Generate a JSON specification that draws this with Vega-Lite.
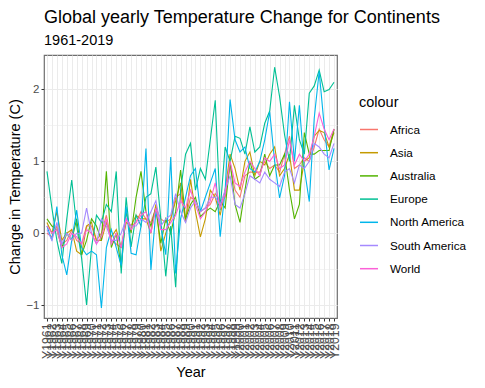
{
  "$schema": "https://vega.github.io/schema/vega-lite/v6.json",
  "autosize": {"type": "none"},
  "padding": {"left": 44, "top": 55, "right": 148, "bottom": 70},
  "width": 293,
  "height": 263,
  "background": "white",
  "title": {
    "text": "Global yearly Temperature Change for Continents",
    "subtitle": "1961-2019",
    "anchor": "start",
    "frame": "group",
    "font": "Liberation Sans",
    "fontSize": 18,
    "fontWeight": "normal",
    "color": "#000000",
    "subtitleFont": "Liberation Sans",
    "subtitleFontSize": 14.5,
    "subtitleColor": "#000000",
    "subtitlePadding": 7,
    "offset": 8
  },
  "data": {
    "values": [
      {"Year": "Y1961", "Africa": 0.0, "Asia": 0.15, "Australia": 0.2, "Europe": 0.86, "North America": 0.1, "South America": 0.05, "World": 0.1},
      {"Year": "Y1962", "Africa": -0.05, "Asia": 0.0, "Australia": 0.1, "Europe": 0.35, "North America": -0.1, "South America": -0.1, "World": 0.0},
      {"Year": "Y1963", "Africa": 0.1, "Asia": 0.3, "Australia": 0.05, "Europe": -0.1, "North America": 0.37, "South America": 0.15, "World": 0.05},
      {"Year": "Y1964", "Africa": -0.15, "Asia": -0.1, "Australia": -0.2, "Europe": -0.42, "North America": -0.3, "South America": -0.15, "World": -0.2},
      {"Year": "Y1965", "Africa": -0.1, "Asia": 0.0, "Australia": 0.0, "Europe": 0.2, "North America": -0.58, "South America": 0.0, "World": -0.15},
      {"Year": "Y1966", "Africa": 0.05, "Asia": 0.05, "Australia": -0.1, "Europe": 0.74, "North America": -0.1, "South America": -0.1, "World": 0.0},
      {"Year": "Y1967", "Africa": -0.1, "Asia": -0.25, "Australia": 0.2, "Europe": 0.1, "North America": 0.32, "South America": 0.0, "World": -0.05},
      {"Year": "Y1968", "Africa": -0.15, "Asia": -0.3, "Australia": -0.3, "Europe": -0.35, "North America": -0.2, "South America": 0.0, "World": -0.15},
      {"Year": "Y1969", "Africa": 0.1, "Asia": 0.1, "Australia": -0.1, "Europe": -1.0, "North America": -0.3, "South America": 0.35, "World": 0.05},
      {"Year": "Y1970", "Africa": 0.1, "Asia": 0.15, "Australia": 0.2, "Europe": -0.2, "North America": -0.25, "South America": 0.0, "World": 0.0},
      {"Year": "Y1971", "Africa": -0.1, "Asia": -0.1, "Australia": 0.1, "Europe": 0.25, "North America": -0.3, "South America": -0.15, "World": -0.15},
      {"Year": "Y1972", "Africa": 0.0, "Asia": -0.1, "Australia": -0.1, "Europe": 0.15, "North America": -1.04, "South America": 0.2, "World": -0.05},
      {"Year": "Y1973", "Africa": 0.25, "Asia": 0.15, "Australia": 0.86, "Europe": 0.4, "North America": -0.2, "South America": 0.1, "World": 0.2},
      {"Year": "Y1974", "Africa": -0.1, "Asia": -0.05, "Australia": -0.2, "Europe": 0.3, "North America": 0.05, "South America": -0.1, "World": -0.15},
      {"Year": "Y1975", "Africa": -0.15, "Asia": 0.05, "Australia": 0.0, "Europe": 0.86, "North America": -0.2, "South America": -0.1, "World": 0.0},
      {"Year": "Y1976", "Africa": -0.2, "Asia": -0.2, "Australia": -0.48, "Europe": -0.56, "North America": -0.45, "South America": 0.0, "World": -0.2},
      {"Year": "Y1977", "Africa": 0.2, "Asia": 0.15, "Australia": 0.3, "Europe": 0.5, "North America": 0.37, "South America": 0.2, "World": 0.2},
      {"Year": "Y1978", "Africa": 0.1, "Asia": 0.1, "Australia": 0.0, "Europe": -0.19, "North America": -0.28, "South America": 0.1, "World": 0.05},
      {"Year": "Y1979", "Africa": 0.15, "Asia": 0.25, "Australia": 0.5, "Europe": 0.25, "North America": -0.3, "South America": 0.1, "World": 0.15},
      {"Year": "Y1980", "Africa": 0.3, "Asia": 0.2, "Australia": 0.86, "Europe": 0.1, "North America": 0.1, "South America": 0.2, "World": 0.25},
      {"Year": "Y1981", "Africa": 0.2, "Asia": 0.2, "Australia": 0.3, "Europe": 0.5, "North America": 1.18, "South America": 0.15, "World": 0.3},
      {"Year": "Y1982", "Africa": 0.15, "Asia": 0.0, "Australia": 0.1, "Europe": 0.55, "North America": -0.51, "South America": 0.3, "World": 0.0},
      {"Year": "Y1983", "Africa": 0.35, "Asia": 0.4, "Australia": 0.35, "Europe": 0.92, "North America": 0.3, "South America": 0.45, "World": 0.35},
      {"Year": "Y1984", "Africa": 0.2, "Asia": -0.25, "Australia": -0.14, "Europe": 0.2, "North America": 0.1, "South America": 0.1, "World": 0.05},
      {"Year": "Y1985", "Africa": 0.15, "Asia": 0.0, "Australia": 0.2, "Europe": -0.6, "North America": -0.3, "South America": 0.2, "World": 0.05},
      {"Year": "Y1986", "Africa": 0.2, "Asia": 0.2, "Australia": 0.0, "Europe": 0.1, "North America": 1.06, "South America": 0.25, "World": 0.15},
      {"Year": "Y1987", "Africa": 0.5, "Asia": 0.45, "Australia": 0.3, "Europe": -0.75, "North America": -0.56, "South America": 0.55, "World": 0.25},
      {"Year": "Y1988", "Africa": 0.55, "Asia": 0.7, "Australia": 0.88, "Europe": 0.6, "North America": 0.2, "South America": 0.3, "World": 0.45},
      {"Year": "Y1989", "Africa": 0.2, "Asia": 0.15, "Australia": 0.2, "Europe": 1.1, "North America": 0.5, "South America": 0.15, "World": 0.35},
      {"Year": "Y1990", "Africa": 0.5, "Asia": 0.75, "Australia": 0.4, "Europe": 1.25, "North America": 0.8, "South America": 0.35, "World": 0.6},
      {"Year": "Y1991", "Africa": 0.45, "Asia": 0.3, "Australia": 0.5, "Europe": 0.6, "North America": 0.9, "South America": 0.45, "World": 0.4},
      {"Year": "Y1992", "Africa": 0.3, "Asia": -0.05, "Australia": 0.23, "Europe": 0.9, "North America": 0.3, "South America": 0.3, "World": 0.2},
      {"Year": "Y1993", "Africa": 0.35, "Asia": 0.2, "Australia": 0.3, "Europe": 0.75, "North America": 0.5, "South America": 0.35, "World": 0.3},
      {"Year": "Y1994", "Africa": 0.4, "Asia": 0.6, "Australia": 0.35, "Europe": 1.3, "North America": 0.7, "South America": 0.5, "World": 0.45},
      {"Year": "Y1995", "Africa": 0.55, "Asia": 0.5, "Australia": 0.3, "Europe": 1.85, "North America": 0.9, "South America": 0.5, "World": 0.7},
      {"Year": "Y1996", "Africa": 0.45, "Asia": 0.25, "Australia": 0.45, "Europe": 0.32, "North America": -0.05, "South America": 0.4, "World": 0.35},
      {"Year": "Y1997", "Africa": 0.5, "Asia": 0.6, "Australia": 0.35, "Europe": 1.2, "North America": 0.6, "South America": 0.6, "World": 0.55},
      {"Year": "Y1998", "Africa": 0.95, "Asia": 1.1, "Australia": 1.0, "Europe": 1.0, "North America": 1.86, "South America": 0.8, "World": 1.0},
      {"Year": "Y1999", "Africa": 0.6, "Asia": 0.9, "Australia": 0.4, "Europe": 1.35, "North America": 1.3, "South America": 0.4, "World": 0.7},
      {"Year": "Y2000", "Africa": 0.5, "Asia": 0.6, "Australia": 0.15, "Europe": 1.32, "North America": 1.13, "South America": 0.35, "World": 0.65},
      {"Year": "Y2001", "Africa": 0.8, "Asia": 1.0, "Australia": 0.6, "Europe": 1.1, "North America": 1.2, "South America": 0.55, "World": 0.85},
      {"Year": "Y2002", "Africa": 0.85, "Asia": 1.13, "Australia": 1.0, "Europe": 1.48, "North America": 0.9, "South America": 0.8, "World": 1.0},
      {"Year": "Y2003", "Africa": 0.85, "Asia": 0.8, "Australia": 0.75, "Europe": 1.13, "North America": 0.85, "South America": 0.75, "World": 0.9},
      {"Year": "Y2004", "Africa": 0.85, "Asia": 1.0, "Australia": 0.8, "Europe": 1.2, "North America": 1.0, "South America": 0.7, "World": 0.8},
      {"Year": "Y2005", "Africa": 1.0, "Asia": 0.95, "Australia": 1.1, "Europe": 1.53, "North America": 1.3, "South America": 0.85, "World": 1.05},
      {"Year": "Y2006", "Africa": 0.9, "Asia": 1.1, "Australia": 0.8, "Europe": 1.7, "North America": 1.69, "South America": 0.75, "World": 1.0},
      {"Year": "Y2007", "Africa": 0.95, "Asia": 1.2, "Australia": 0.95, "Europe": 2.31, "North America": 1.0, "South America": 0.7, "World": 1.1},
      {"Year": "Y2008", "Africa": 0.85, "Asia": 0.8, "Australia": 0.95, "Europe": 1.9, "North America": 0.49, "South America": 0.65, "World": 0.9},
      {"Year": "Y2009", "Africa": 1.1, "Asia": 0.9, "Australia": 1.1, "Europe": 1.37, "North America": 0.8, "South America": 0.85, "World": 0.95},
      {"Year": "Y2010", "Africa": 1.35, "Asia": 1.1, "Australia": 0.6, "Europe": 1.0, "North America": 1.83, "South America": 0.9, "World": 1.3},
      {"Year": "Y2011", "Africa": 0.9, "Asia": 0.6, "Australia": 0.2, "Europe": 1.78, "North America": 1.0, "South America": 0.7, "World": 0.95},
      {"Year": "Y2012", "Africa": 0.95, "Asia": 0.6, "Australia": 0.4, "Europe": 1.3, "North America": 1.78, "South America": 0.95, "World": 1.1},
      {"Year": "Y2013", "Africa": 1.05, "Asia": 1.0, "Australia": 1.4, "Europe": 1.1, "North America": 0.9, "South America": 0.9, "World": 1.0},
      {"Year": "Y2014", "Africa": 1.0, "Asia": 1.05, "Australia": 1.1, "Europe": 1.95, "North America": 0.44, "South America": 1.0, "World": 1.1},
      {"Year": "Y2015", "Africa": 1.2, "Asia": 1.35, "Australia": 1.1, "Europe": 2.05, "North America": 1.6, "South America": 1.25, "World": 1.35},
      {"Year": "Y2016", "Africa": 1.45, "Asia": 1.43, "Australia": 1.15, "Europe": 2.27, "North America": 2.25, "South America": 1.2, "World": 1.67},
      {"Year": "Y2017", "Africa": 1.3, "Asia": 1.4, "Australia": 1.15, "Europe": 1.97, "North America": 1.5, "South America": 1.1, "World": 1.45},
      {"Year": "Y2018", "Africa": 1.2, "Asia": 1.2, "Australia": 1.15, "Europe": 2.0, "North America": 0.88, "South America": 1.05, "World": 1.3},
      {"Year": "Y2019", "Africa": 1.45, "Asia": 1.4, "Australia": 1.45, "Europe": 2.1, "North America": 1.18, "South America": 1.25, "World": 1.45}
    ]
  },
  "transform": [
    {"fold": ["Africa", "Asia", "Australia", "Europe", "North America", "South America", "World"], "as": ["colour", "Change"]}
  ],
  "mark": {"type": "line", "strokeWidth": 1.1, "clip": true},
  "encoding": {
    "x": {
      "field": "Year",
      "type": "ordinal",
      "scale": {"type": "point", "padding": 0.6},
      "axis": {
        "title": "Year",
        "titleFont": "Liberation Sans",
        "titleFontSize": 14.5,
        "titleFontWeight": "normal",
        "titleColor": "#000000",
        "titlePadding": 7,
        "labelAngle": -90,
        "labelAlign": "right",
        "labelBaseline": "middle",
        "labelOverlap": false,
        "labelFont": "Liberation Sans",
        "labelFontSize": 12.3,
        "labelColor": "#4D4D4D",
        "labelPadding": 2,
        "tickColor": "#333333",
        "tickSize": 3,
        "domain": false,
        "grid": true,
        "gridColor": "#EBEBEB",
        "gridWidth": 1
      }
    },
    "y": {
      "field": "Change",
      "type": "quantitative",
      "scale": {"domain": [-1.18, 2.48], "nice": false, "zero": false},
      "axis": {
        "title": "Change in Temperature (C)",
        "titleFont": "Liberation Sans",
        "titleFontSize": 14.5,
        "titleFontWeight": "normal",
        "titleColor": "#000000",
        "titlePadding": 3,
        "values": [-1, -0.5, 0, 0.5, 1, 1.5, 2],
        "labelExpr": "datum.value % 1 === 0 ? format(datum.value, 'd') : ''",
        "labelFont": "Liberation Sans",
        "labelFontSize": 11.5,
        "labelColor": "#4D4D4D",
        "labelPadding": 2,
        "tickColor": {"condition": {"test": "datum.value % 1 !== 0", "value": "transparent"}, "value": "#333333"},
        "tickSize": 3,
        "domain": false,
        "grid": true,
        "gridColor": "#EBEBEB",
        "gridWidth": {"condition": {"test": "datum.value % 1 !== 0", "value": 0.6}, "value": 1.1}
      }
    },
    "color": {
      "field": "colour",
      "type": "nominal",
      "scale": {
        "domain": ["Africa", "Asia", "Australia", "Europe", "North America", "South America", "World"],
        "range": ["#F8766D", "#C49A00", "#53B400", "#00C094", "#00B6EB", "#A58AFF", "#FB61D7"]
      },
      "legend": {
        "orient": "none",
        "legendX": 315,
        "legendY": 41,
        "title": "colour",
        "titleFont": "Liberation Sans",
        "titleFontSize": 14.5,
        "titleFontWeight": "normal",
        "titleColor": "#000000",
        "titlePadding": 9,
        "symbolType": "stroke",
        "symbolSize": 324,
        "symbolStrokeWidth": 1.5,
        "labelFont": "Liberation Sans",
        "labelFontSize": 11.7,
        "labelColor": "#000000",
        "labelOffset": 11,
        "rowPadding": 6.2,
        "padding": 0
      }
    }
  },
  "config": {
    "view": {"stroke": "#6E6E6E", "strokeWidth": 1.2}
  }
}
